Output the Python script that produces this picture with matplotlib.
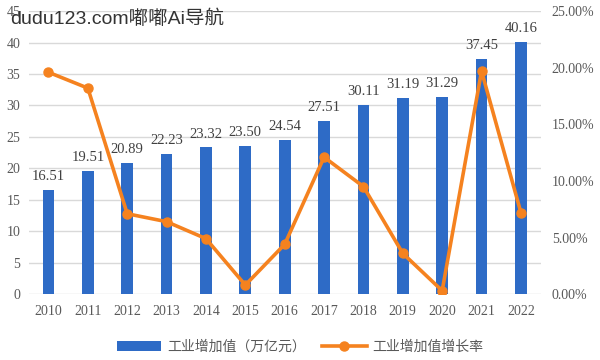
import matplotlib.pyplot as plt
from matplotlib.ticker import FuncFormatter

plt.rcParams['font.family'] = ['Liberation Serif', 'Noto Sans CJK SC']

# data
years = ['2010', '2011', '2012', '2013', '2014', '2015', '2016',
         '2017', '2018', '2019', '2020', '2021', '2022']
value_added = [16.51, 19.51, 20.89, 22.23, 23.32, 23.50, 24.54,
               27.51, 30.11, 31.19, 31.29, 37.45, 40.16]
growth_pct = [19.6, 18.2, 7.1, 6.4, 4.9, 0.8, 4.4,
              12.1, 9.5, 3.6, 0.3, 19.7, 7.2]

bar_label = '工业增加值（万亿元）'
line_label = '工业增加值增长率'

blue = '#2E6BC6'
orange = '#F5821F'
tick_gray = '#595959'

fig = plt.figure(figsize=(6, 3.6), dpi=100)
ax = fig.add_axes([0.048, 0.183, 0.853, 0.786])
ax2 = ax.twinx()

x = list(range(len(years)))
bars = ax.bar(x, value_added, width=0.3, color=blue, zorder=2, label=bar_label)
for xi, v in zip(x, value_added):
    ax.annotate(f'{v:.2f}', (xi, v), xytext=(0, 5), textcoords='offset points',
                ha='center', va='bottom', fontsize=10.5, color='#404040')

line, = ax2.plot(x, growth_pct, color=orange, lw=2.6, marker='o', ms=6.5,
                 zorder=3, label=line_label)

ax.set_xlim(-0.5, len(years) - 0.5)
ax.set_ylim(0, 45)
ax.set_yticks(range(0, 46, 5))
ax2.set_ylim(0, 25)
ax2.set_yticks(range(0, 26, 5))
ax2.yaxis.set_major_formatter(FuncFormatter(lambda v, p: f'{v:.2f}%'))

ax.set_xticks(x)
ax.set_xticklabels(years)
ax.grid(axis='y', color='#D9D9D9', lw=1, zorder=0)
ax.set_axisbelow(True)

for a in (ax, ax2):
    for s in a.spines.values():
        s.set_visible(False)
    a.tick_params(length=0, labelsize=10, colors=tick_gray)
ax.tick_params(axis='x', pad=8)
ax.tick_params(axis='y', pad=6)
ax2.tick_params(axis='y', pad=8)

leg = fig.legend(handles=[bars, line], loc='center', bbox_to_anchor=(0.5, 0.035),
                 ncol=2, frameon=False, fontsize=10, handlelength=3.2,
                 columnspacing=1.2, handletextpad=0.4)
for t in leg.get_texts():
    t.set_color(tick_gray)

# watermark at top left
fig.text(0.017, 0.947, 'dudu123.com嘟嘟Ai导航', fontsize=14, color='#333333',
         family=['Liberation Sans', 'Noto Sans CJK SC'], va='center', ha='left')

fig.savefig('out.png', dpi=100)
